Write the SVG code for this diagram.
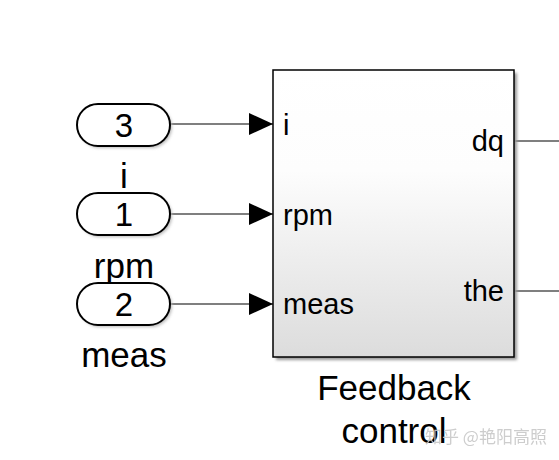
<svg xmlns="http://www.w3.org/2000/svg" width="559" height="460" viewBox="0 0 559 460">
<style>
text{font-family:"Liberation Sans",Arial,sans-serif;fill:#000}
.num{font-size:33px;text-anchor:middle}
.lbl{font-size:35px;text-anchor:middle}
.port{font-size:29px}
.oval{fill:#fff;stroke:#000;stroke-width:2}
.wire{stroke:#000;stroke-width:1.2;fill:none}
</style>
<defs>
<linearGradient id="g" x1="0" y1="0" x2="0" y2="1">
<stop offset="0" stop-color="#ffffff"/>
<stop offset="0.35" stop-color="#fdfdfd"/>
<stop offset="1" stop-color="#dcdcdc"/>
</linearGradient>
<marker id="arr" viewBox="0 0 24 22" refX="24" refY="11" markerWidth="24" markerHeight="22" markerUnits="userSpaceOnUse" orient="auto">
<path d="M0,0 L24,11 L0,22 Z" fill="#000"/>
</marker>
<filter id="sh" x="-5%" y="-5%" width="110%" height="110%">
<feGaussianBlur stdDeviation="1.5"/>
</filter>
</defs>
<g id="connectors">
<line class="wire" x1="170" y1="124" x2="273" y2="124" marker-end="url(#arr)"/>
<line class="wire" x1="170" y1="214" x2="273" y2="214" marker-end="url(#arr)"/>
<line class="wire" x1="170" y1="304" x2="273" y2="304" marker-end="url(#arr)"/>
<line class="wire" x1="514" y1="141" x2="559" y2="141"/>
<line class="wire" x1="514" y1="291" x2="559" y2="291"/>
</g>
<g id="in3">
<rect x="79" y="106" width="93" height="42" rx="21" fill="#bbb" filter="url(#sh)"/>
<rect class="oval" x="77" y="104" width="93" height="42" rx="21"/>
<text class="num" x="124" y="137">3</text>
<text class="lbl" x="124" y="188">i</text>
</g>
<g id="in1">
<rect x="79" y="195" width="93" height="42" rx="21" fill="#bbb" filter="url(#sh)"/>
<rect class="oval" x="77" y="193" width="93" height="42" rx="21"/>
<text class="num" x="124" y="226">1</text>
<text class="lbl" x="124" y="278">rpm</text>
</g>
<g id="in2">
<rect x="79" y="285" width="93" height="42" rx="21" fill="#bbb" filter="url(#sh)"/>
<rect class="oval" x="77" y="283" width="93" height="42" rx="21"/>
<text class="num" x="124" y="316">2</text>
<text class="lbl" x="124" y="367">meas</text>
</g>
<g id="feedback">
<rect x="276" y="73" width="241" height="287" fill="#999" filter="url(#sh)"/>
<rect x="273" y="70" width="241" height="287" fill="url(#g)" stroke="#000" stroke-width="1.5"/>
<text class="port" x="283" y="135">i</text>
<text class="port" x="283" y="225">rpm</text>
<text class="port" x="283" y="314">meas</text>
<text class="port" x="504" y="151" text-anchor="end">dq</text>
<text class="port" x="504" y="301" text-anchor="end">the</text>
<text x="394" y="400" font-size="35" text-anchor="middle">Feedback</text>
<text x="394" y="443" font-size="35" text-anchor="middle">control</text>
</g>
<text x="425" y="443" font-size="17" style="font-family:'Noto Sans CJK SC',sans-serif;fill:#c8c8c8;opacity:0.9">知乎 @艳阳高照</text>
</svg>
